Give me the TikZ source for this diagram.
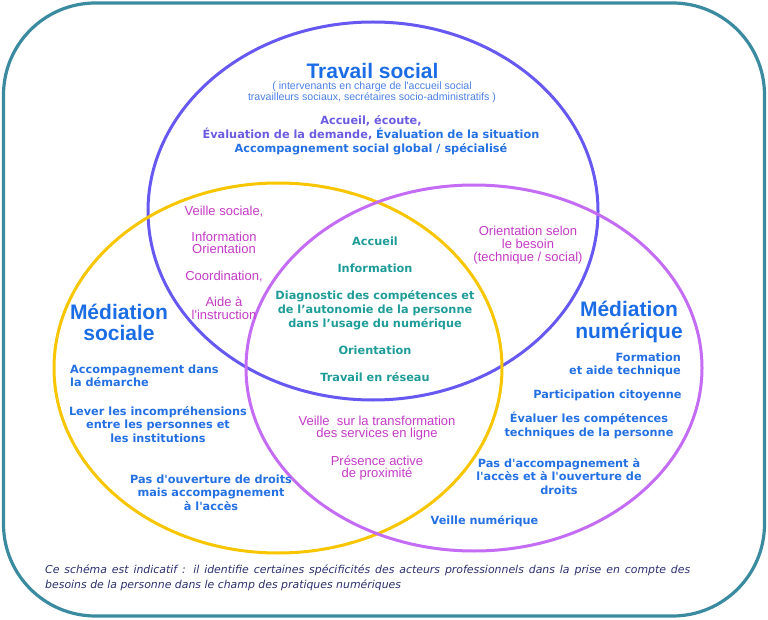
\documentclass[tikz,border=0pt]{standalone}
\usepackage{fontspec}
\setmainfont{Liberation Sans}
\newfontfamily\vfont{DejaVu Sans}
\newfontfamily\afont{Liberation Sans}
\definecolor{framec}{HTML}{3A8B9F}
\definecolor{topc}{HTML}{6658F0}
\definecolor{yelc}{HTML}{F7C600}
\definecolor{vioc}{HTML}{C46CF4}
\definecolor{titlec}{HTML}{1B6DE6}
\definecolor{bluec}{HTML}{2370E2}
\definecolor{subc}{HTML}{4A7FE6}
\definecolor{purpc}{HTML}{6B5BE0}
\definecolor{magc}{HTML}{C43AC6}
\definecolor{tealc}{HTML}{1E9C98}
\definecolor{footc}{HTML}{2B2F6E}
\tikzset{
  framebox/.style={draw=framec, line width=3.2pt, rounded corners=92pt},
  venn/.style={line width=3pt},
  ttl/.style={text=titlec, font=\afont\bfseries\fontsize{21}{21.6}\selectfont, align=center, inner sep=0pt},
  subt/.style={text=subc, font=\afont\fontsize{10.6}{10.6}\selectfont, align=center, inner sep=0pt},
  bluet/.style={text=bluec, font=\vfont\bfseries\fontsize{11.3}{13.6}\selectfont, align=center, inner sep=0pt},
  tealt/.style={text=tealc, font=\vfont\bfseries\fontsize{11.3}{13.6}\selectfont, align=center, inner sep=0pt},
  magt/.style={text=magc, font=\afont\fontsize{13}{12.4}\selectfont, align=center, inner sep=0pt},
  foot/.style={text=footc, font=\vfont\itshape\fontsize{10.9}{15.5}\selectfont, align=justify, text width=645pt, inner sep=0pt}
}
\begin{document}
\begin{tikzpicture}[x=1pt,y=-1pt]
\useasboundingbox (0,0) rectangle (768,620);
\draw[framebox] (3.5,3) rectangle (764.5,616);
% Venn ellipses
\draw[venn, draw=topc] (373,211) ellipse [x radius=225pt, y radius=189pt];
\draw[venn, draw=yelc] (278,368) ellipse [x radius=224pt, y radius=185pt];
\draw[venn, draw=vioc] (474,368) ellipse [x radius=228pt, y radius=183pt];
% Travail social
\node[ttl] (tstitle) at (372.5,71) {Travail social};
\node[subt] (tssub) at (372,92.5) {( intervenants en charge de l'accueil social\\travailleurs sociaux, secrétaires socio-administratifs )};
\node[bluet, font=\vfont\bfseries\fontsize{11.3}{14}\selectfont] (tsbody) at (371,135.5) {{\color{purpc}Accueil, écoute,}\\{\color{purpc}Évaluation de la demande,} Évaluation de la situation\\Accompagnement social global / spécialisé};
% lenses
\node[magt] (lenstl) at (224,262.5) {Veille sociale,\\[14pt]Information\\Orientation\\[14pt]Coordination,\\[14pt]Aide à\\l'instruction};
\node[magt, font=\afont\fontsize{13}{13.3}\selectfont] (lenstr) at (528,245) {Orientation selon\\le besoin\\(technique / social)};
\node[magt, font=\afont\fontsize{13}{12}\selectfont] (lensb) at (377,448) {Veille\ \ sur la transformation\\des services en ligne\\[15pt]Présence active\\de proximité};
\node[tealt] (centre) at (375,309.3) {Accueil\\[13.6pt]Information\\[13.6pt]Diagnostic des compétences et\\de l’autonomie de la personne\\dans l’usage du numérique\\[13.6pt]Orientation\\[13.6pt]Travail en réseau};
% Médiation sociale
\node[ttl] (mstitle) at (119,322.5) {Médiation\\sociale};
\node[bluet, align=left, anchor=west, font=\vfont\bfseries\fontsize{11.3}{12.5}\selectfont] (ms1) at (70,376) {Accompagnement dans\\la démarche};
\node[bluet, font=\vfont\bfseries\fontsize{11.3}{13.5}\selectfont] (ms2) at (158,424.3) {Lever les incompréhensions\\entre les personnes et\\les institutions};
\node[bluet, font=\vfont\bfseries\fontsize{11.3}{13.5}\selectfont] (ms3) at (211,492.5) {Pas d'ouverture de droits\\mais accompagnement\\à l'accès};
% Médiation numérique
\node[ttl] (mntitle) at (629,321.7) {Médiation\\numérique};
\node[bluet, align=right, anchor=east, font=\vfont\bfseries\fontsize{11.3}{13.4}\selectfont] (mn1) at (681,365) {Formation\\et aide technique};
\node[bluet] (mn2) at (607.5,395) {Participation citoyenne};
\node[bluet, font=\vfont\bfseries\fontsize{11.3}{14.4}\selectfont] (mn3) at (589,425.5) {Évaluer les compétences\\techniques de la personne};
\node[bluet, font=\vfont\bfseries\fontsize{11.3}{13.7}\selectfont] (mn4) at (559,476.3) {Pas d'accompagnement à\\l'accès et à l'ouverture de\\droits};
\node[bluet] (mn5) at (484.5,521) {Veille numérique};
% footer
\node[foot, anchor=north west] (footer) at (45,564.5) {Ce schéma est indicatif : il identifie certaines spécificités des acteurs professionnels dans la prise en compte des\linebreak besoins de la personne dans le champ des pratiques numériques};
\end{tikzpicture}
\end{document}
